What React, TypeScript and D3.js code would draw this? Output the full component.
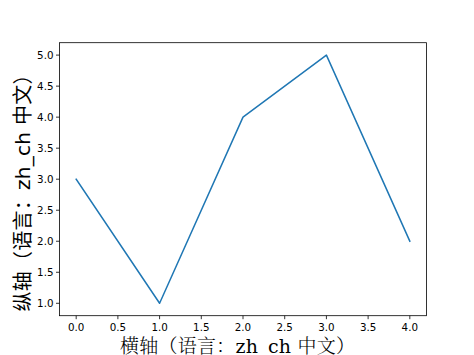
import React from "react";
import * as d3 from "d3";

const xValues = [0, 1, 2, 3, 4];
const yValues = [3, 1, 4, 5, 2];
const xTicks = [0, 0.5, 1, 1.5, 2, 2.5, 3, 3.5, 4];
const yTicks = [1, 1.5, 2, 2.5, 3, 3.5, 4, 4.5, 5];
const xLabel = "横轴（语言：zh_ch 中文）";
const yLabel = "纵轴（语言：zh_ch 中文）";

export default function App() {
  const W = 474, H = 355;
  const L = 59.5, R = 426.5, T = 42.7, B = 315.7;
  const x = d3.scaleLinear().domain([-0.2, 4.2]).range([L, R]);
  const y = d3.scaleLinear().domain([0.8, 5.2]).range([B, T]);
  const line = d3.line<number>().x((_, i) => x(xValues[i])).y((d) => y(d));
  const tickFont = "DejaVu Sans, sans-serif";
  return (
    <svg width={W} height={H} style={{ position: "absolute", left: 0, top: 0, background: "#fff" }}>
      <rect x={0} y={0} width={W} height={H} fill="#fff" />
      <path d={line(yValues) || ""} fill="none" stroke="#1f77b4" strokeWidth={1.5} strokeLinejoin="round" strokeLinecap="square" />
      <rect x={L} y={T} width={R - L} height={B - T} fill="none" stroke="#000" strokeWidth={0.8} />
      {xTicks.map((t) => (
        <g key={"x" + t}>
          <line x1={x(t)} x2={x(t)} y1={B} y2={B + 3.5} stroke="#000" strokeWidth={0.8} />
          <text x={x(t)} y={B + 15} textAnchor="middle" fontSize={10.3} fontFamily={tickFont} fill="#000">
            {t.toFixed(1)}
          </text>
        </g>
      ))}
      {yTicks.map((t) => (
        <g key={"y" + t}>
          <line x1={L - 3.5} x2={L} y1={y(t)} y2={y(t)} stroke="#000" strokeWidth={0.8} />
          <text x={L - 6} y={y(t) + 3.7} textAnchor="end" fontSize={10.3} fontFamily={tickFont} fill="#000">
            {t.toFixed(1)}
          </text>
        </g>
      ))}
      <text x={120} y={353} textLength={235} lengthAdjust="spacing" fontSize={19} fontWeight={300} fontFamily="'DejaVu Serif', 'Noto Serif CJK SC', 'Noto Sans CJK SC', serif" fill="#000">
        {xLabel}
      </text>
      <text transform={`translate(30,311.5) rotate(-90)`} textLength={247} lengthAdjust="spacing" fontSize={20} fontFamily="'DejaVu Sans', 'Noto Sans CJK SC', sans-serif" fill="#000">
        {yLabel}
      </text>
    </svg>
  );
}
